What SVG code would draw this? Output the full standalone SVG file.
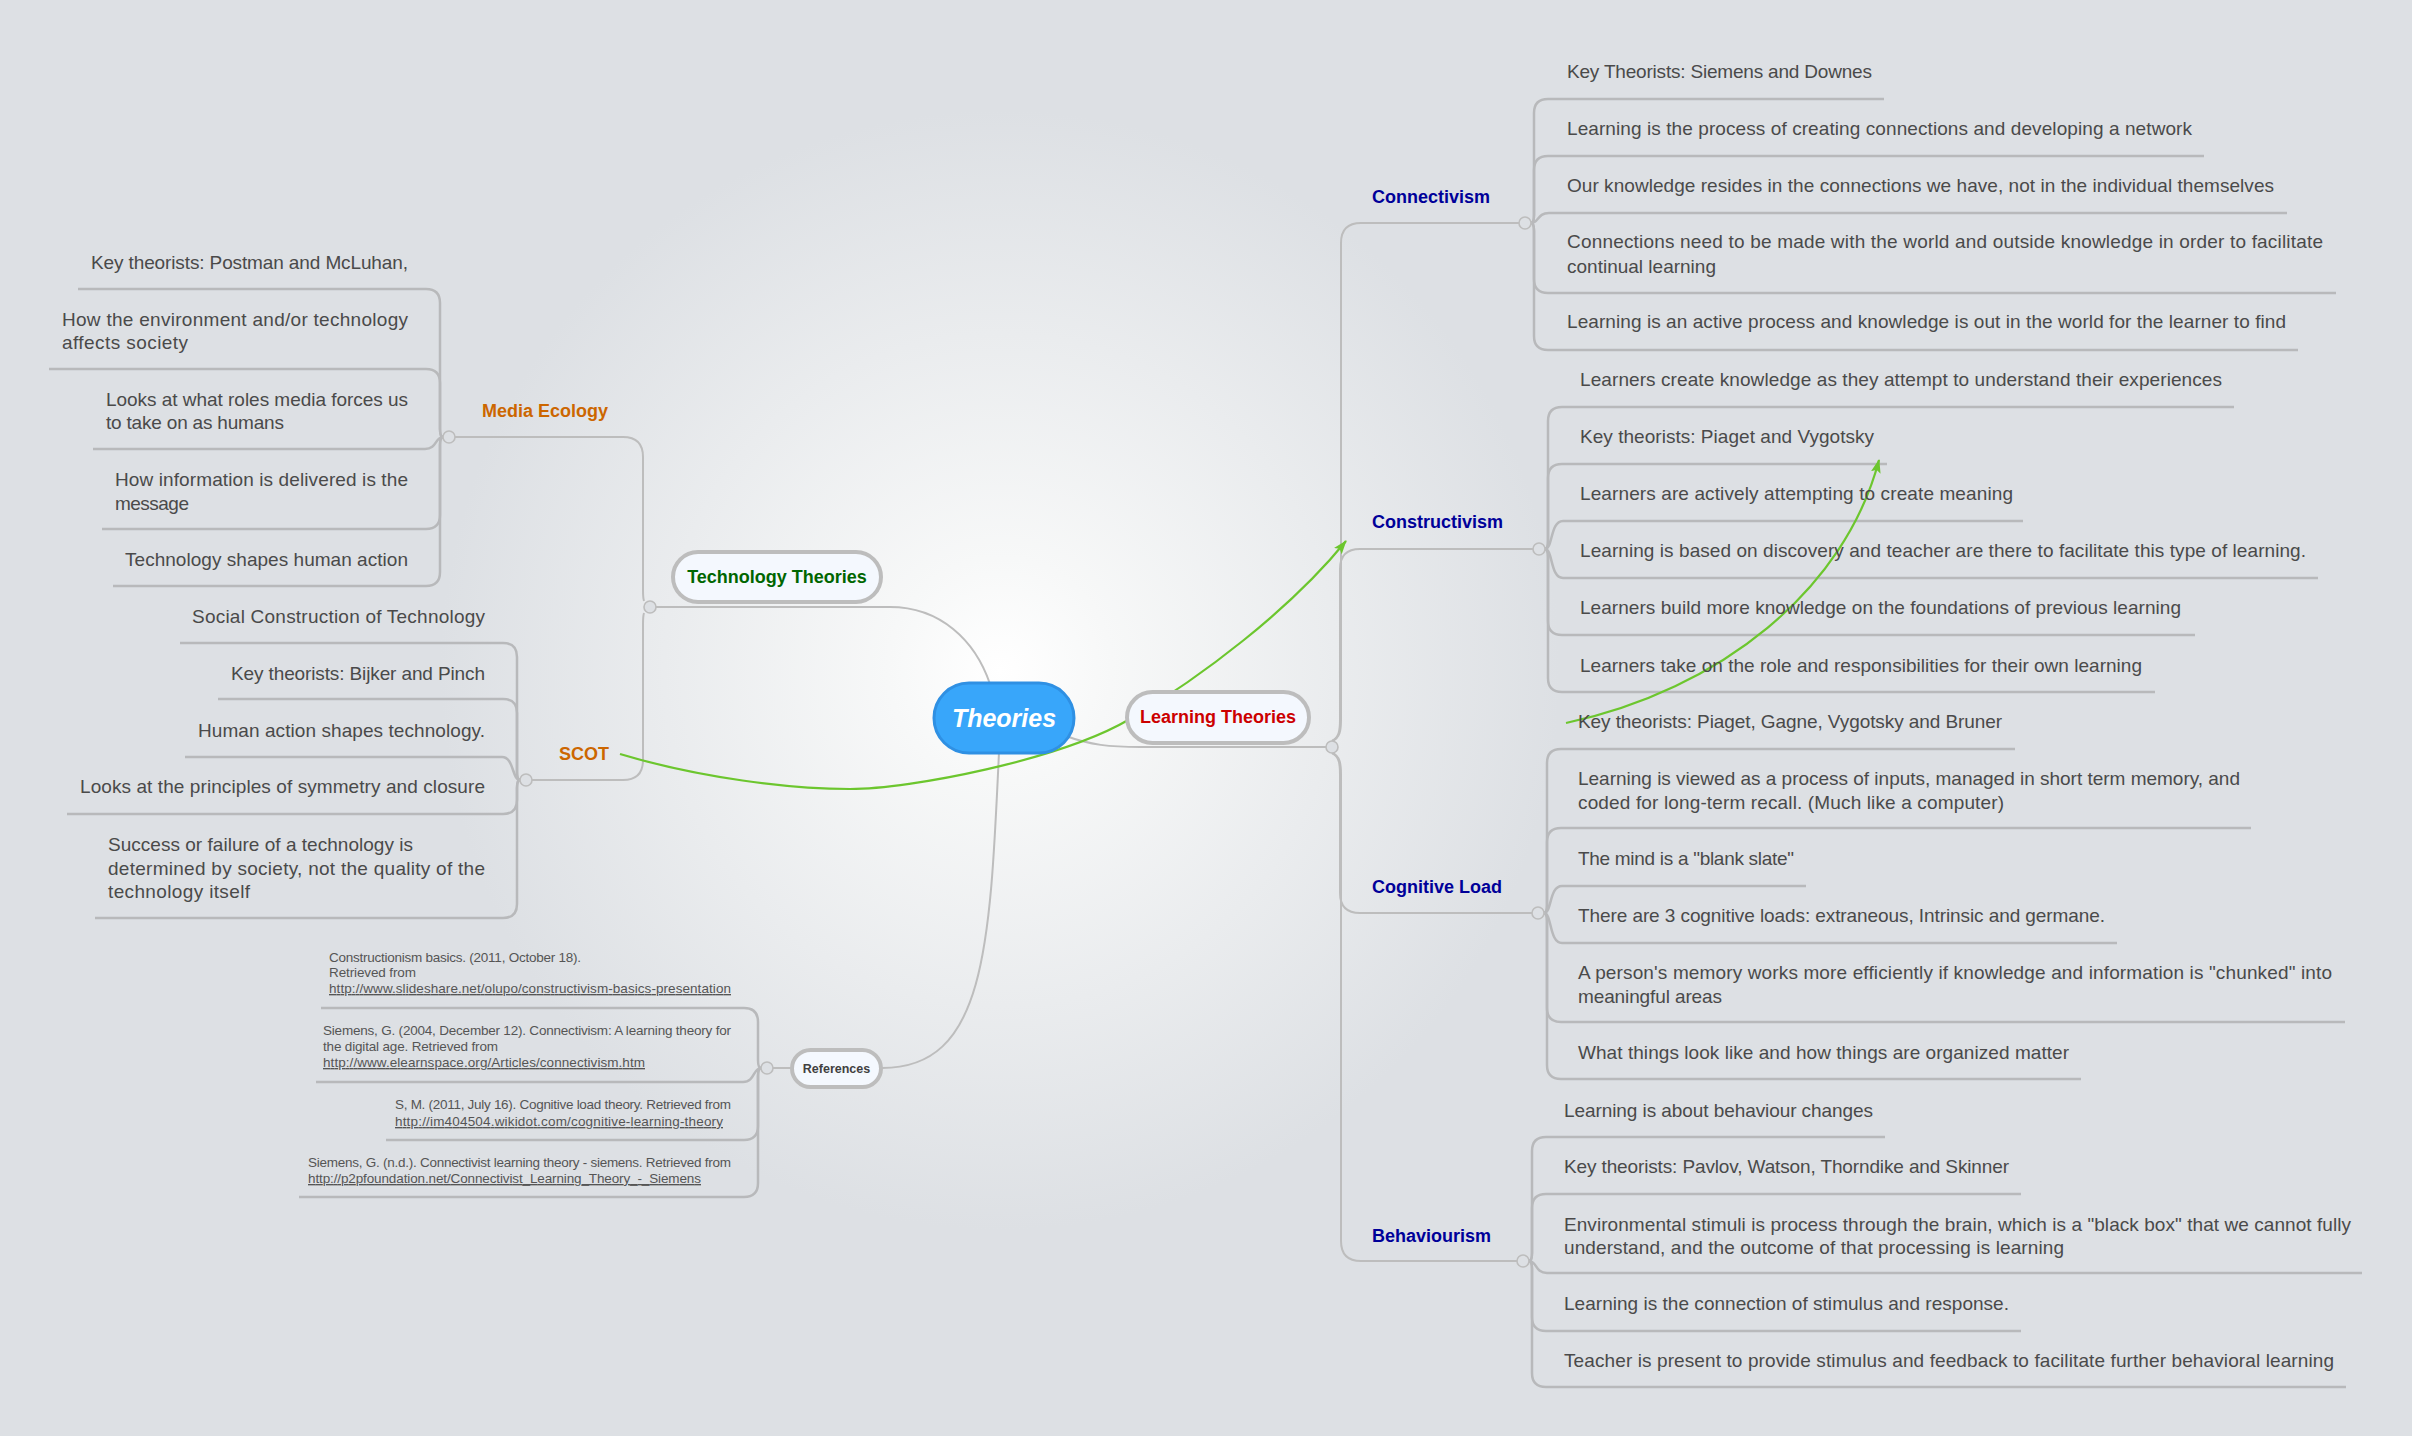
<svg xmlns="http://www.w3.org/2000/svg" width="2412" height="1436" viewBox="0 0 2412 1436">
<defs>
<radialGradient id="bg" cx="1000" cy="670" r="560" gradientUnits="userSpaceOnUse">
<stop offset="0" stop-color="#ffffff"/>
<stop offset="0.2" stop-color="#f7f8f8"/>
<stop offset="1" stop-color="#dde0e4"/>
</radialGradient>
<marker id="arr" viewBox="0 0 14 10" refX="13" refY="5" markerWidth="14" markerHeight="10" markerUnits="userSpaceOnUse" orient="auto">
<path d="M0,0 L14,5 L0,10 L3,5 z" fill="#6cc62e"/>
</marker>
<style>
.leaf{font-family:"Liberation Sans",Arial,sans-serif;font-size:19px;fill:#4a4a4a}
.end{text-anchor:end}
.ref{font-family:"Liberation Sans",Arial,sans-serif;font-size:13.5px;fill:#555555}
.link{text-decoration:underline}
.br{font-family:"Liberation Sans",Arial,sans-serif;font-size:18px;font-weight:bold;fill:#000099}
.or{fill:#cc6600}
.ln{fill:none;stroke:#bdbdbd;stroke-width:2}
.ul{fill:none;stroke:#b8b9bb;stroke-width:2.5}
.jn{fill:#dde0e4;stroke:#bdbdbd;stroke-width:1.6}
.rel{fill:none;stroke:#6cc62e;stroke-width:2.2}
.pill{fill:#f4f8fe;stroke:#bdbdbd;stroke-width:4}
.pt{font-family:"Liberation Sans",Arial,sans-serif;font-weight:bold;text-anchor:middle}
</style>
</defs>
<rect x="0" y="0" width="2412" height="1436" fill="#dde0e4"/>
<rect x="0" y="0" width="2412" height="1436" fill="url(#bg)"/>

<g id="connectors">
<path class="ln" d="M1066,736 C1090,745 1110,747 1140,747 L1326,747"/>
<path class="ln" d="M656,607 L890,607 C940,607 975,640 990,684"/>
<path class="ln" d="M999,752 C990,950 985,1068 882,1068"/>
<path class="ln" d="M773,1068 L792,1068"/>
<path class="ln" d="M1332,741 C1340,738 1341,730 1341,720 L1341,243 Q1341,223 1361,223 L1519,223"/>
<path class="ln" d="M1332,741 C1339,738 1340,730 1340,720 L1340,569 Q1340,549 1360,549 L1533,549"/>
<path class="ln" d="M1332,753 C1339,756 1340,764 1340,774 L1340,893 Q1340,913 1360,913 L1532,913"/>
<path class="ln" d="M1332,753 C1340,756 1341,764 1341,774 L1341,1241 Q1341,1261 1361,1261 L1517,1261"/>
<path class="ln" d="M644,601 Q643,598 643,590 L643,457 Q643,437 623,437 L455,437"/>
<path class="ln" d="M644,613 Q643,616 643,624 L643,760 Q643,780 623,780 L532,780"/>
<path class="ul" d="M1531,223 Q1534,223 1534,215 L1534,113 Q1534,99 1548,99 L1884,99"/>
<path class="ul" d="M1531,223 Q1534,223 1534,215 L1534,170 Q1534,156 1548,156 L2204,156"/>
<path class="ul" d="M1531,223 C1539,223 1537,213 1549,213 L2287,213"/>
<path class="ul" d="M1531,223 Q1534,223 1534,231 L1534,279 Q1534,293 1548,293 L2336,293"/>
<path class="ul" d="M1531,223 Q1534,223 1534,231 L1534,336 Q1534,350 1548,350 L2298,350"/>
<path class="ul" d="M1545,549 Q1548,549 1548,541 L1548,421 Q1548,407 1562,407 L2234,407"/>
<path class="ul" d="M1545,549 Q1548,549 1548,541 L1548,478 Q1548,464 1562,464 L1887,464"/>
<path class="ul" d="M1545,549 C1553,549 1550,521 1563,521 L2023,521"/>
<path class="ul" d="M1545,549 C1553,549 1550,578 1563,578 L2318,578"/>
<path class="ul" d="M1545,549 Q1548,549 1548,557 L1548,621 Q1548,635 1562,635 L2195,635"/>
<path class="ul" d="M1545,549 Q1548,549 1548,557 L1548,678 Q1548,692 1562,692 L2155,692"/>
<path class="ul" d="M1544,913 Q1547,913 1547,905 L1547,763 Q1547,749 1561,749 L2015,749"/>
<path class="ul" d="M1544,913 Q1547,913 1547,905 L1547,842 Q1547,828 1561,828 L2251,828"/>
<path class="ul" d="M1544,913 C1552,913 1549,886 1562,886 L1806,886"/>
<path class="ul" d="M1544,913 C1552,913 1549,943 1562,943 L2117,943"/>
<path class="ul" d="M1544,913 Q1547,913 1547,921 L1547,1008 Q1547,1022 1561,1022 L2345,1022"/>
<path class="ul" d="M1544,913 Q1547,913 1547,921 L1547,1065 Q1547,1079 1561,1079 L2081,1079"/>
<path class="ul" d="M1529,1261 Q1532,1261 1532,1253 L1532,1151 Q1532,1137 1546,1137 L1885,1137"/>
<path class="ul" d="M1529,1261 Q1532,1261 1532,1253 L1532,1208 Q1532,1194 1546,1194 L2021,1194"/>
<path class="ul" d="M1529,1261 C1537,1261 1535,1273 1547,1273 L2362,1273"/>
<path class="ul" d="M1529,1261 Q1532,1261 1532,1269 L1532,1317 Q1532,1331 1546,1331 L2021,1331"/>
<path class="ul" d="M1529,1261 Q1532,1261 1532,1269 L1532,1373 Q1532,1387 1546,1387 L2346,1387"/>
<path class="ul" d="M443,437 Q440,437 440,429 L440,303 Q440,289 426,289 L78,289"/>
<path class="ul" d="M443,437 Q440,437 440,429 L440,383 Q440,369 426,369 L49,369"/>
<path class="ul" d="M443,437 C435,437 437,449 425,449 L93,449"/>
<path class="ul" d="M443,437 Q440,437 440,445 L440,515 Q440,529 426,529 L102,529"/>
<path class="ul" d="M443,437 Q440,437 440,445 L440,572 Q440,586 426,586 L113,586"/>
<path class="ul" d="M520,780 Q517,780 517,772 L517,657 Q517,643 503,643 L180,643"/>
<path class="ul" d="M520,780 Q517,780 517,772 L517,713 Q517,699 503,699 L218,699"/>
<path class="ul" d="M520,780 C512,780 514,757 502,757 L185,757"/>
<path class="ul" d="M520,780 Q517,780 517,788 L517,800 Q517,814 503,814 L67,814"/>
<path class="ul" d="M520,780 Q517,780 517,788 L517,904 Q517,918 503,918 L95,918"/>
<path class="ul" d="M761,1068 Q758,1068 758,1060 L758,1022 Q758,1008 744,1008 L321,1008"/>
<path class="ul" d="M761,1068 C753,1068 755,1082 743,1082 L316,1082"/>
<path class="ul" d="M761,1068 Q758,1068 758,1076 L758,1126 Q758,1140 744,1140 L386,1140"/>
<path class="ul" d="M761,1068 Q758,1068 758,1076 L758,1183 Q758,1197 744,1197 L299,1197"/>
<path class="rel" marker-end="url(#arr)" d="M620,754 C700,778 790,789 850,789 C910,789 1060,760 1130,719 C1200,678 1290,610 1346,541"/>
<path class="rel" marker-end="url(#arr)" d="M1566,723 C1720,690 1845,590 1879,460"/>
<circle class="jn" cx="1332" cy="747" r="6" fill="#e6e8eb"/>
<circle class="jn" cx="1525" cy="223" r="6"/>
<circle class="jn" cx="1539" cy="549" r="6"/>
<circle class="jn" cx="1538" cy="913" r="6"/>
<circle class="jn" cx="1523" cy="1261" r="6"/>
<circle class="jn" cx="650" cy="607" r="6"/>
<circle class="jn" cx="449" cy="437" r="6"/>
<circle class="jn" cx="526" cy="780" r="6"/>
<circle class="jn" cx="767" cy="1068" r="6"/>
</g>

<g id="node-theories">
<rect x="934" y="683" width="140" height="70" rx="35" fill="#38a6fa" stroke="#2f90e3" stroke-width="3"/>
<text x="1004" y="727" class="pt" font-size="25" font-style="italic" fill="#ffffff">Theories</text>
</g>
<g id="node-learning-theories">
<rect class="pill" x="1127" y="692" width="182" height="51" rx="25.5"/>
<text x="1218" y="723" class="pt" font-size="18" fill="#cc0000">Learning Theories</text>
</g>
<g id="node-technology-theories">
<rect class="pill" x="673" y="552" width="208" height="50" rx="25"/>
<text x="777" y="583" class="pt" font-size="18" fill="#006600">Technology Theories</text>
</g>
<g id="node-references">
<rect class="pill" x="792" y="1050" width="89" height="37" rx="18.5" stroke-width="3.5"/>
<text x="836.5" y="1073" class="pt" font-size="12.5" fill="#404040">References</text>
</g>

<g id="node-connectivism"><text class="br" x="1372" y="203">Connectivism</text></g>
<g id="node-constructivism"><text class="br" x="1372" y="528">Constructivism</text></g>
<g id="node-cognitive-load"><text class="br" x="1372" y="893">Cognitive Load</text></g>
<g id="node-behaviourism"><text class="br" x="1372" y="1242">Behaviourism</text></g>
<g id="node-media-ecology"><text class="br or" x="482" y="417">Media Ecology</text></g>
<g id="node-scot"><text class="br or" x="559" y="760">SCOT</text></g>

<g id="connectivism-leaves">
<g id="c1"><text class="leaf" x="1567" y="78" textLength="305">Key Theorists: Siemens and Downes</text></g>
<g id="c2"><text class="leaf" x="1567" y="135" textLength="625">Learning is the process of creating connections and developing a network</text></g>
<g id="c3"><text class="leaf" x="1567" y="192" textLength="707">Our knowledge resides in the connections we have, not in the individual themselves</text></g>
<g id="c4"><text class="leaf" x="1567" y="248" textLength="756">Connections need to be made with the world and outside knowledge in order to facilitate</text><text class="leaf" x="1567" y="273" textLength="149">continual learning</text></g>
<g id="c5"><text class="leaf" x="1567" y="328" textLength="719">Learning is an active process and knowledge is out in the world for the learner to find</text></g>
</g>
<g id="constructivism-leaves">
<g id="k1"><text class="leaf" x="1580" y="386" textLength="642">Learners create knowledge as they attempt to understand their experiences</text></g>
<g id="k2"><text class="leaf" x="1580" y="443" textLength="294">Key theorists: Piaget and Vygotsky</text></g>
<g id="k3"><text class="leaf" x="1580" y="500" textLength="433">Learners are actively attempting to create meaning</text></g>
<g id="k4"><text class="leaf" x="1580" y="557" textLength="726">Learning is based on discovery and teacher are there to facilitate this type of learning.</text></g>
<g id="k5"><text class="leaf" x="1580" y="614" textLength="601">Learners build more knowledge on the foundations of previous learning</text></g>
<g id="k6"><text class="leaf" x="1580" y="672" textLength="562">Learners take on the role and responsibilities for their own learning</text></g>
</g>
<g id="cognitive-leaves">
<g id="g1"><text class="leaf" x="1578" y="728" textLength="424">Key theorists: Piaget, Gagne, Vygotsky and Bruner</text></g>
<g id="g2"><text class="leaf" x="1578" y="785" textLength="662">Learning is viewed as a process of inputs, managed in short term memory, and</text><text class="leaf" x="1578" y="809" textLength="426">coded for long-term recall. (Much like a computer)</text></g>
<g id="g3"><text class="leaf" x="1578" y="865" textLength="216">The mind is a "blank slate"</text></g>
<g id="g4"><text class="leaf" x="1578" y="922" textLength="527">There are 3 cognitive loads: extraneous, Intrinsic and germane.</text></g>
<g id="g5"><text class="leaf" x="1578" y="979" textLength="754">A person's memory works more efficiently if knowledge and information is "chunked" into</text><text class="leaf" x="1578" y="1003" textLength="144">meaningful areas</text></g>
<g id="g6"><text class="leaf" x="1578" y="1059" textLength="491">What things look like and how things are organized matter</text></g>
</g>
<g id="behaviourism-leaves">
<g id="b1"><text class="leaf" x="1564" y="1117" textLength="309">Learning is about behaviour changes</text></g>
<g id="b2"><text class="leaf" x="1564" y="1173" textLength="445">Key theorists: Pavlov, Watson, Thorndike and Skinner</text></g>
<g id="b3"><text class="leaf" x="1564" y="1231" textLength="787">Environmental stimuli is process through the brain, which is a "black box" that we cannot fully</text><text class="leaf" x="1564" y="1254" textLength="500">understand, and the outcome of that processing is learning</text></g>
<g id="b4"><text class="leaf" x="1564" y="1310" textLength="445">Learning is the connection of stimulus and response.</text></g>
<g id="b5"><text class="leaf" x="1564" y="1367" textLength="770">Teacher is present to provide stimulus and feedback to facilitate further behavioral learning</text></g>
</g>
<g id="media-ecology-leaves">
<g id="m1"><text class="leaf end" x="408" y="269" textLength="317">Key theorists: Postman and McLuhan,</text></g>
<g id="m2"><text class="leaf" x="62" y="326" textLength="346">How the environment and/or technology</text><text class="leaf" x="62" y="349" textLength="126">affects society</text></g>
<g id="m3"><text class="leaf" x="106" y="406" textLength="302">Looks at what roles media forces us</text><text class="leaf" x="106" y="429" textLength="178">to take on as humans</text></g>
<g id="m4"><text class="leaf" x="115" y="486" textLength="293">How information is delivered is the</text><text class="leaf" x="115" y="510" textLength="74">message</text></g>
<g id="m5"><text class="leaf end" x="408" y="566" textLength="283">Technology shapes human action</text></g>
</g>
<g id="scot-leaves">
<g id="s1"><text class="leaf end" x="485" y="623" textLength="293">Social Construction of Technology</text></g>
<g id="s2"><text class="leaf end" x="485" y="680" textLength="254">Key theorists: Bijker and Pinch</text></g>
<g id="s3"><text class="leaf end" x="485" y="737" textLength="287">Human action shapes technology.</text></g>
<g id="s4"><text class="leaf end" x="485" y="793" textLength="405">Looks at the principles of symmetry and closure</text></g>
<g id="s5"><text class="leaf" x="108" y="851" textLength="305">Success or failure of a technology is</text><text class="leaf" x="108" y="875" textLength="377">determined by society, not the quality of the</text><text class="leaf" x="108" y="898" textLength="142">technology itself</text></g>
</g>
<g id="references-leaves">
<g id="r1"><text class="ref" x="329" y="962" textLength="252">Constructionism basics. (2011, October 18).</text><text class="ref" x="329" y="977" textLength="87">Retrieved from</text><text class="ref link" x="329" y="993" textLength="402">http://www.slideshare.net/olupo/constructivism-basics-presentation</text></g>
<g id="r2"><text class="ref" x="323" y="1035" textLength="408">Siemens, G. (2004, December 12). Connectivism: A learning theory for</text><text class="ref" x="323" y="1051" textLength="175">the digital age. Retrieved from</text><text class="ref link" x="323" y="1067" textLength="322">http://www.elearnspace.org/Articles/connectivism.htm</text></g>
<g id="r3"><text class="ref" x="395" y="1109" textLength="336">S, M. (2011, July 16). Cognitive load theory. Retrieved from</text><text class="ref link" x="395" y="1126" textLength="328">http://im404504.wikidot.com/cognitive-learning-theory</text></g>
<g id="r4"><text class="ref" x="308" y="1167" textLength="423">Siemens, G. (n.d.). Connectivist learning theory - siemens. Retrieved from</text><text class="ref link" x="308" y="1183" textLength="393">http://p2pfoundation.net/Connectivist_Learning_Theory_-_Siemens</text></g>
</g>
</svg>
